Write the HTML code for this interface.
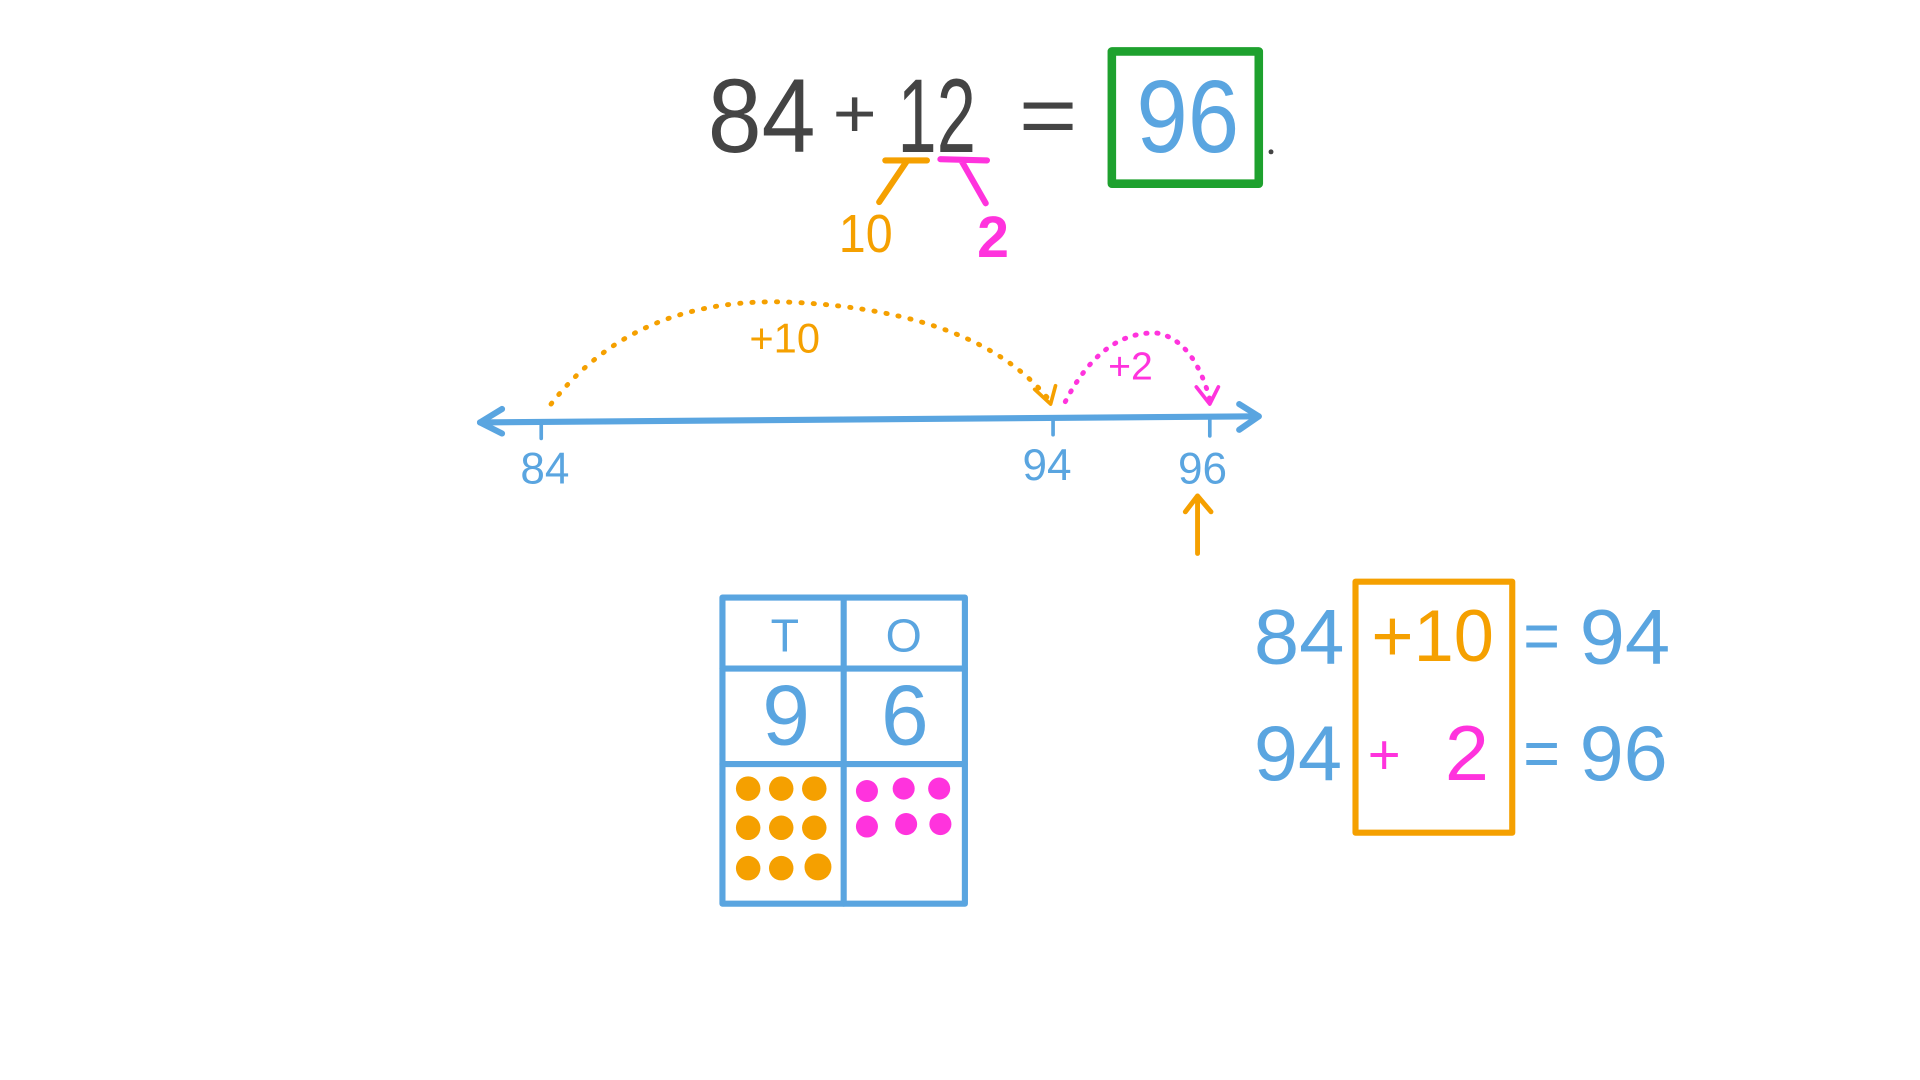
<!DOCTYPE html>
<html><head><meta charset="utf-8"><style>
html,body{margin:0;padding:0;background:#fff;}
svg{display:block;}
text{font-family:"Liberation Sans",sans-serif;}
</style></head><body>
<svg width="1920" height="1080" viewBox="0 0 1568 882" xmlns="http://www.w3.org/2000/svg">
<rect width="1568" height="882" fill="#fff"/>
<g stroke-linecap="round" stroke-linejoin="round" fill="none">
<!-- top equation -->
<text x="578" y="124" font-size="86" fill="#444" stroke="none" textLength="88" lengthAdjust="spacingAndGlyphs">84</text>
<text x="680" y="112" font-size="56" fill="#444" stroke="none" textLength="36" lengthAdjust="spacingAndGlyphs">+</text>
<text x="733" y="124" font-size="86" fill="#444" stroke="none" textLength="64" lengthAdjust="spacingAndGlyphs">12</text>
<text x="832" y="118" font-size="70" fill="#444" stroke="none" textLength="48" lengthAdjust="spacingAndGlyphs">=</text>
<rect x="908" y="42" width="120" height="108" stroke="#1ea12e" stroke-width="7"/>
<text x="928" y="124" font-size="84" fill="#5aa5e0" stroke="none" textLength="84" lengthAdjust="spacingAndGlyphs">96</text>
<circle cx="1038" cy="124" r="2" fill="#444" stroke="none"/>
<!-- partition -->
<path d="M723 131 L757 131 M741 131 L718 165" stroke="#f5a000" stroke-width="5"/>
<path d="M768 130 L806 131 M785 131 L805 166" stroke="#ff33dd" stroke-width="5"/>
<text x="685" y="206" font-size="44" fill="#f5a000" stroke="none" textLength="44" lengthAdjust="spacingAndGlyphs">10</text>
<text x="798" y="210" font-size="48" fill="#ff33dd" stroke="none" font-weight="bold" textLength="26" lengthAdjust="spacingAndGlyphs">2</text>
<!-- number line -->
<path d="M392 345 L1028 340" stroke="#5aa5e0" stroke-width="5"/>
<path d="M410 334 L392 345 L410 354" stroke="#5aa5e0" stroke-width="5"/>
<path d="M1012 330 L1028 340 L1012 351" stroke="#5aa5e0" stroke-width="5"/>
<path d="M442 346 V358 M860 343 V355 M988 342 V356" stroke="#5aa5e0" stroke-width="3"/>
<text x="425" y="395" font-size="36" fill="#5aa5e0" stroke="none">84</text>
<text x="835" y="392" font-size="36" fill="#5aa5e0" stroke="none">94</text>
<text x="962" y="395" font-size="36" fill="#5aa5e0" stroke="none">96</text>
<path d="M450 330 Q520 240 650 247 Q800 255 858 328" stroke="#f5a000" stroke-width="4" stroke-dasharray="1 9"/>
<path d="M845 318 L858 330 L862 315" stroke="#f5a000" stroke-width="3"/>
<text x="612" y="288" font-size="34" fill="#f5a000" stroke="none">+10</text>
<path d="M870 328 Q900 270 945 272 Q975 278 988 326" stroke="#ff33dd" stroke-width="4" stroke-dasharray="1 8"/>
<path d="M977 316 L988 330 L995 316" stroke="#ff33dd" stroke-width="3"/>
<text x="905" y="310" font-size="32" fill="#ff33dd" stroke="none">+2</text>
<path d="M978 452 V405 M968 418 L978 405 L989 418" stroke="#f5a000" stroke-width="4"/>
<!-- place value table -->
<rect x="590" y="488" width="198" height="250" stroke="#5aa5e0" stroke-width="5"/>
<path d="M689 488 V738 M590 546 H788 M590 624 H788" stroke="#5aa5e0" stroke-width="5"/>
<text x="641" y="532" font-size="38" fill="#5aa5e0" stroke="none" text-anchor="middle">T</text>
<text x="738" y="532" font-size="38" fill="#5aa5e0" stroke="none" text-anchor="middle">O</text>
<text x="642" y="608" font-size="70" fill="#5aa5e0" stroke="none" text-anchor="middle">9</text>
<text x="739" y="608" font-size="70" fill="#5aa5e0" stroke="none" text-anchor="middle">6</text>
<g fill="#f5a000" stroke="none">
<circle cx="611" cy="644" r="10"/><circle cx="638" cy="644" r="10"/><circle cx="665" cy="644" r="10"/>
<circle cx="611" cy="676" r="10"/><circle cx="638" cy="676" r="10"/><circle cx="665" cy="676" r="10"/>
<circle cx="611" cy="709" r="10"/><circle cx="638" cy="709" r="10"/><circle cx="668" cy="708" r="11"/>
</g>
<g fill="#ff33dd" stroke="none">
<circle cx="708" cy="646" r="9"/><circle cx="738" cy="644" r="9"/><circle cx="767" cy="644" r="9"/>
<circle cx="708" cy="675" r="9"/><circle cx="740" cy="673" r="9"/><circle cx="768" cy="673" r="9"/>
</g>
<!-- right equations -->
<rect x="1107" y="475" width="128" height="205" stroke="#f5a000" stroke-width="5"/>
<text x="1024" y="542" font-size="64" fill="#5aa5e0" stroke="none" textLength="74" lengthAdjust="spacingAndGlyphs">84</text>
<text x="1120" y="540" font-size="60" fill="#f5a000" stroke="none" textLength="100" lengthAdjust="spacingAndGlyphs">+10</text>
<text x="1244" y="538" font-size="56" fill="#5aa5e0" stroke="none" textLength="30" lengthAdjust="spacingAndGlyphs">=</text>
<text x="1290" y="542" font-size="64" fill="#5aa5e0" stroke="none" textLength="74" lengthAdjust="spacingAndGlyphs">94</text>
<text x="1024" y="637" font-size="64" fill="#5aa5e0" stroke="none" textLength="72" lengthAdjust="spacingAndGlyphs">94</text>
<text x="1117" y="632" font-size="46" fill="#ff33dd" stroke="none">+</text>
<text x="1180" y="637" font-size="64" fill="#ff33dd" stroke="none" textLength="36" lengthAdjust="spacingAndGlyphs">2</text>
<text x="1244" y="634" font-size="56" fill="#5aa5e0" stroke="none" textLength="30" lengthAdjust="spacingAndGlyphs">=</text>
<text x="1290" y="637" font-size="64" fill="#5aa5e0" stroke="none" textLength="72" lengthAdjust="spacingAndGlyphs">96</text>
</g>
</svg>
</body></html>
